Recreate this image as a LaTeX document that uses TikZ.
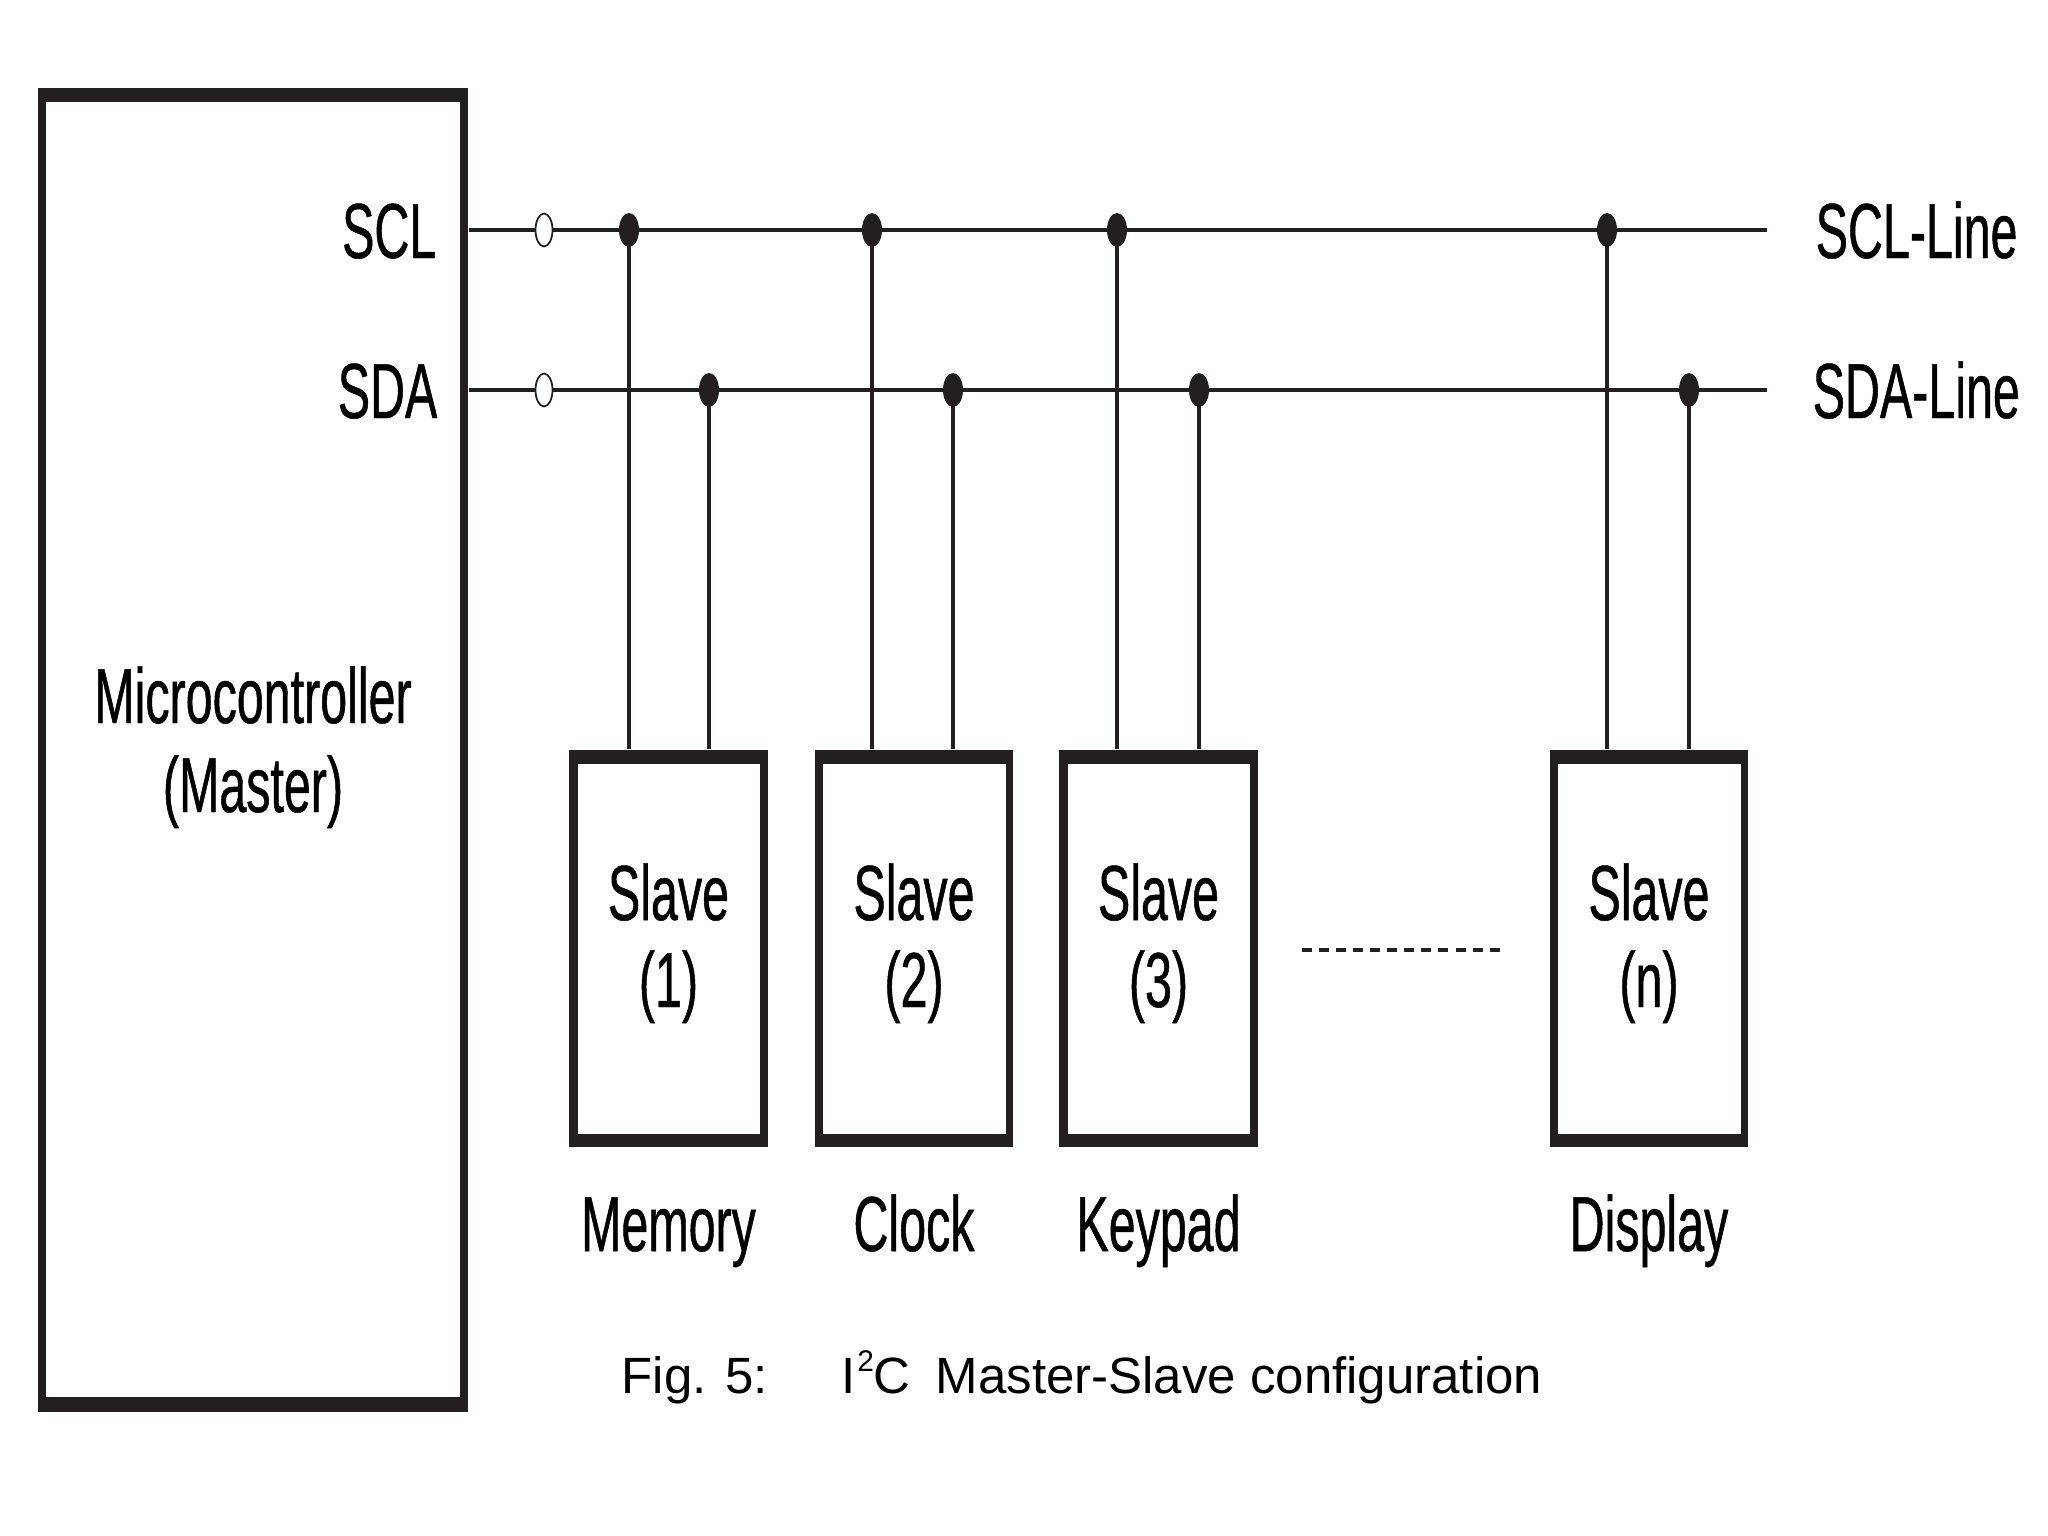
\documentclass[tikz,border=0pt]{standalone}
\usepackage{fontspec}
\setmainfont{Liberation Sans}
\newfontfamily\narrowf[FakeStretch=0.62,FakeBold=0.6]{Liberation Sans}
\usetikzlibrary{shapes.geometric,calc}
\definecolor{ink}{RGB}{35,31,32}
\begin{document}
\begin{tikzpicture}[x=0.01cm,y=-0.01cm,
  lab/.style={font=\narrowf\fontsize{22.2}{26}\selectfont, inner sep=0pt, text=black},
  capt/.style={font=\fontsize{14.5}{17}\selectfont, inner sep=0pt, anchor=base west, text=black},
  outerbox/.style={rectangle, fill=ink, draw=none, inner sep=0pt},
  bus/.style={draw=ink, line width=1.14pt},
  tap/.style={draw=ink, line width=0.95pt},
  joint/.style={ellipse, fill=ink, draw=none, inner sep=0pt, minimum width=0.2cm, minimum height=0.34cm},
  openjoint/.style={ellipse, draw=ink, fill=white, line width=0.5pt, inner sep=0pt, minimum width=0.17cm, minimum height=0.33cm},
  dots/.style={draw=ink, line width=1.14pt, dash pattern=on 2.85pt off 2pt}
]
\fill[white] (0,0) rectangle (2048,1536);
\useasboundingbox (0,0) rectangle (2048,1536);

% master box
\node[outerbox, minimum width=4.30cm, minimum height=13.24cm] (master) at (253,750) {};
\fill[white] ($(master.south west)+(9,-16)$) rectangle ($(master.north east)+(-9,15)$);
\node[lab, anchor=base] (mc1) at (253,723) {Microcontroller};
\node[lab, anchor=base] (mc2) at (253,812) {(Master)};
\node[lab, anchor=base east] (scllab) at (437,258) {SCL};
\node[lab, anchor=base east] (sdalab) at (438,418) {SDA};

% slave boxes
\foreach \n/\cx/\nm in {1/668.5/Memory, 2/914/Clock, 3/1158.5/Keypad, n/1649/Display}{
  \node[outerbox, minimum width=1.98cm, minimum height=3.97cm] (s\n) at (\cx,948.5) {};
  \fill[white] ($(s\n.south west)+(9,-14)$) rectangle ($(s\n.north east)+(-8,15)$);
  \node[lab, anchor=base] (sa\n) at (\cx,920) {Slave};
  \node[lab, anchor=base] (sb\n) at (\cx,1007) {(\n)};
  \node[lab, anchor=base] (nm\n) at (\cx,1251) {\nm};
}

% bus lines
\coordinate (sclend) at (1767,230);
\coordinate (sdaend) at (1767,390);
\draw[bus] (master.east |- sclend) -- (sclend);
\draw[bus] (master.east |- sdaend) -- (sdaend);
\node[lab, anchor=base west] (sclline) at (1815,258) {SCL-Line};
\node[lab, anchor=base west] (sdaline) at (1812,418) {SDA-Line};

% tap points
\coordinate (c1) at (629,230);  \coordinate (d1) at (709,390);
\coordinate (c2) at (872,230);  \coordinate (d2) at (953,390);
\coordinate (c3) at (1117,230); \coordinate (d3) at (1199,390);
\coordinate (cn) at (1607,230); \coordinate (dn) at (1689,390);

\foreach \n in {1,2,3,n}{
  \draw[tap] (c\n) -- (c\n |- s\n.north);
  \draw[tap] (d\n) -- (d\n |- s\n.north);
}
\foreach \n in {1,2,3,n}{
  \node[joint] (jc\n) at (c\n) {};
  \node[joint] (jd\n) at (d\n) {};
}
\node[openjoint] (oc) at (544,230) {};
\node[openjoint] (od) at (544,390) {};

% ellipsis between slaves
\coordinate (dA) at (1302,950);
\coordinate (dB) at (1505,950);
\draw[dots] (dA) -- (dB);

% caption
\node[capt] (cap1) at (621,1393) {Fig. 5:};
\node[capt] (cap2) at (841,1393) {I\kern0.03em\raisebox{0.42em}{\fontsize{8.5}{9}\selectfont 2}\kern-0.02em C};
\node[capt] (cap3) at (935,1393) {Master-Slave configuration};
\end{tikzpicture}
\end{document}
